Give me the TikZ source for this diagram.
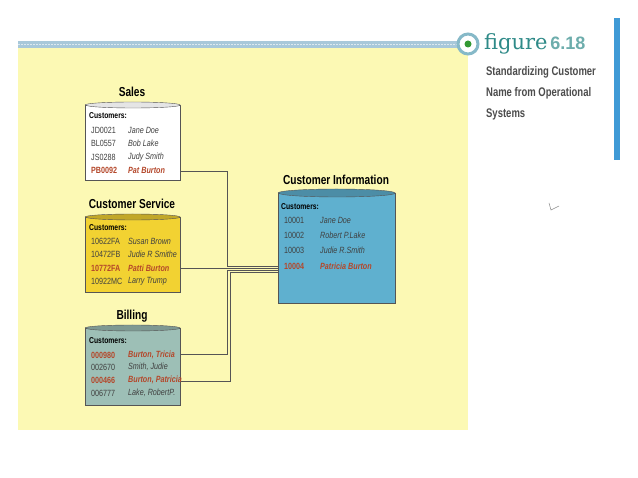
\documentclass[tikz,border=0pt]{standalone}
\usepackage{fontspec}
\setmainfont{Liberation Sans}
\newfontfamily\serifA{DejaVu Serif}
\definecolor{bgY}{HTML}{FCF9B4}
\definecolor{csY}{HTML}{F2D232}
\definecolor{blG}{HTML}{9DBFB6}
\definecolor{ciB}{HTML}{5FB0CF}
\definecolor{redT}{HTML}{B4472A}
\definecolor{barB}{HTML}{A8C8DA}
\definecolor{sideB}{HTML}{3F9AD6}
\definecolor{tealT}{HTML}{2E8A88}
\definecolor{lineC}{HTML}{555555}
\tikzset{
 x=1pt,y=-1pt,
 dbbody/.style={draw=lineC,line width=0.6pt,anchor=north west,inner sep=0pt},
 ttl/.style={font=\bfseries\fontsize{13}{13}\selectfont,inner sep=0pt,xscale=0.78},
 hdr/.style={font=\bfseries\fontsize{8.5}{8.5}\selectfont,anchor=west,inner sep=0pt,xscale=0.8},
 row/.style={font=\fontsize{9}{9}\selectfont,anchor=west,inner sep=0pt,xscale=0.8,text=black!75},
 nm/.style={font=\itshape\fontsize{9}{9}\selectfont,anchor=west,inner sep=0pt,xscale=0.8,text=black!75},
 rr/.style={row,text=redT,font=\bfseries\fontsize{9}{9}\selectfont},
 rn/.style={nm,text=redT,font=\bfseries\itshape\fontsize{9}{9}\selectfont},
 conn/.style={draw=lineC,line width=0.7pt},
}
\begin{document}
\begin{tikzpicture}
\useasboundingbox (0,0) rectangle (638,478);
\fill[white] (0,0) rectangle (638,478);
\fill[bgY] (18,48) rectangle (468,430);
% top bar
\fill[barB] (18,41) rectangle (458,48);
\draw[white!60!barB,line width=0.5pt,dash pattern=on 2pt off 1pt] (18,44.5) -- (458,44.5);
\node[circle,draw=barB!80!teal,line width=3pt,fill=white,minimum size=20pt,inner sep=0pt] (ring) at (468,44) {};
\node[circle,fill=green!50!black!80,minimum size=7pt,inner sep=0pt] (dot) at (ring) {};
% right blue bar
\fill[sideB] (614,18) rectangle (620,160);
% figure caption
\node[anchor=west,inner sep=0pt,text=tealT] (fig) at (484,44) {{\serifA\fontsize{21}{21}\selectfont figure} {\bfseries\fontsize{18}{18}\selectfont\color{tealT!70!white}6.18}};
\node[anchor=north west,inner sep=0pt,align=left,text=black!70,font=\bfseries\fontsize{12.5}{21}\selectfont,xscale=0.76] (sub) at (486,66) {Standardizing Customer\\Name from Operational\\Systems};
\draw[black!45,line width=0.5pt] (549,203) -- (551,210) -- (559,206);
% titles
\node[ttl] (tS) at (132,92) {Sales};
\node[ttl] (tC) at (132,204) {Customer Service};
\node[ttl] (tB) at (132,316) {Billing};
\node[ttl] (tI) at (336,180) {Customer Information};
% sales
\node[dbbody,fill=white,minimum width=95pt,minimum height=75pt] (sales) at (85,105) {};
\draw[lineC,fill=white!90!black] (sales.north west) arc[x radius=47.5pt,y radius=3pt,start angle=180,end angle=0] (sales.north east) arc[x radius=47.5pt,y radius=3pt,start angle=0,end angle=-180];
\node[hdr] (sh) at (89,116) {Customers:};
\node[row] (s1) at (91,130) {JD0021}; \node[nm] (s1n) at (128,130) {Jane Doe};
\node[row] (s2) at (91,143) {BL0557}; \node[nm] (s2n) at (128,143) {Bob Lake};
\node[row] (s3) at (91,157) {JS0288}; \node[nm] (s3n) at (128,157) {Judy Smith};
\node[rr] (s4) at (91,170) {PB0092}; \node[rn] (s4n) at (128,170) {Pat Burton};
% customer service
\node[dbbody,fill=csY,minimum width=95pt,minimum height=75pt] (cs) at (85,217) {};
\draw[lineC,fill=csY!80!black] (cs.north west) arc[x radius=47.5pt,y radius=3pt,start angle=180,end angle=0] (cs.north east) arc[x radius=47.5pt,y radius=3pt,start angle=0,end angle=-180];
\node[hdr] (ch) at (89,228) {Customers:};
\node[row] (c1) at (91,241) {10622FA}; \node[nm] (c1n) at (128,241) {Susan Brown};
\node[row] (c2) at (91,254) {10472FB}; \node[nm] (c2n) at (128,254) {Judie R Smithe};
\node[rr] (c3) at (91,268) {10772FA}; \node[rn] (c3n) at (128,268) {Patti Burton};
\node[row] (c4) at (91,281) {10922MC}; \node[nm] (c4n) at (128,281) {Larry Trump};
% billing
\node[dbbody,fill=blG,minimum width=95pt,minimum height=77pt] (bl) at (85,328) {};
\draw[lineC,fill=blG!80!black] (bl.north west) arc[x radius=47.5pt,y radius=3pt,start angle=180,end angle=0] (bl.north east) arc[x radius=47.5pt,y radius=3pt,start angle=0,end angle=-180];
\node[hdr] (bh) at (89,341) {Customers:};
\node[rr] (b1) at (91,355) {000980}; \node[rn] (b1n) at (128,355) {Burton, Tricia};
\node[row] (b2) at (91,367) {002670}; \node[nm] (b2n) at (128,367) {Smith, Judie};
\node[rr] (b3) at (91,380) {000466}; \node[rn] (b3n) at (128,380) {Burton, Patricia};
\node[row] (b4) at (91,393) {006777}; \node[nm] (b4n) at (128,393) {Lake, RobertP.};
% customer information
\node[dbbody,fill=ciB,minimum width=117pt,minimum height=110pt] (ci) at (278,193) {};
\draw[lineC,fill=ciB!80!black] (ci.north west) arc[x radius=58.5pt,y radius=4pt,start angle=180,end angle=0] (ci.north east) arc[x radius=58.5pt,y radius=4pt,start angle=0,end angle=-180];
\node[hdr] (ih) at (281,207) {Customers:};
\node[row] (i1) at (284,220) {10001}; \node[nm] (i1n) at (320,220) {Jane Doe};
\node[row] (i2) at (284,235) {10002}; \node[nm] (i2n) at (320,235) {Robert P.Lake};
\node[row] (i3) at (284,250) {10003}; \node[nm] (i3n) at (320,250) {Judie R.Smith};
\node[rr] (i4) at (284,266) {10004}; \node[rn] (i4n) at (320,266) {Patricia Burton};
% connectors
\coordinate (j1) at (227,171);
\coordinate (j2) at (227,354);
\coordinate (j3) at (230,381);
\draw[conn] (sales.east |- j1) -- (j1) -- (227,266) -- (ci.west |- 0,266);
\draw[conn] (cs.east |- 0,268) -- (ci.west |- 0,268);
\draw[conn] (bl.east |- j2) -- (j2) -- (227,270) -- (ci.west |- 0,270);
\draw[conn] (bl.east |- j3) -- (j3) -- (230,272.5) -- (ci.west |- 0,272.5);
\end{tikzpicture}
\end{document}
